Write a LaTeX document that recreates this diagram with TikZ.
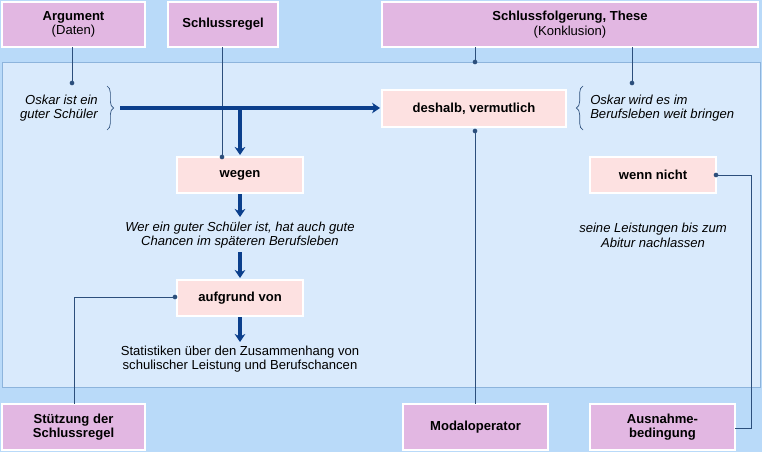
\documentclass[tikz,border=0pt]{standalone}
\usepackage{fontspec}
\setmainfont{Liberation Sans}
\usetikzlibrary{decorations.pathreplacing,arrows.meta}
\definecolor{bgblue}{HTML}{B9DAF9}
\definecolor{panel}{HTML}{D9EAFC}
\definecolor{panelline}{HTML}{8DB4DC}
\definecolor{lila}{HTML}{E2B7E2}
\definecolor{rosa}{HTML}{FDE1E1}
\definecolor{dark}{HTML}{0B3F8C}
\definecolor{lineblue}{HTML}{2C4F7C}
\tikzset{
  x=0.75pt, y=-0.75pt,
  every node/.style={font=\fontsize{9.8}{11}\selectfont, inner sep=0pt},
  outer/.style={draw=white, line width=1pt, fill=lila},
  inner/.style={draw=white, line width=1pt, fill=rosa},
  lbl/.style={font=\fontsize{9.8}{11}\selectfont\bfseries, align=center},
  thick arrow/.style={draw=dark, line width=2.3pt, -{Stealth[length=6pt,width=8pt]}},
  thin line/.style={draw=lineblue, line width=0.5pt},
  dot/.style={circle, fill=lineblue, minimum size=3.5pt, inner sep=0pt},
  txt/.style={align=center, font=\fontsize{9.8}{11}\selectfont\itshape},
}
\begin{document}
\begin{tikzpicture}
\fill[bgblue] (0,0) rectangle (762,452);
\useasboundingbox (0,0) rectangle (762,452);
\filldraw[fill=panel, draw=panelline, line width=0.6pt] (2,62) rectangle (760,387);

% top boxes
\path[outer] (2,2) rectangle (145,47);
\node[align=center] (arg) at (73.5,24.5) {\textbf{Argument}\\(Daten)};
\path[outer] (168,2) rectangle (278,47);
\node[lbl] (regel) at (223,24.5) {Schlussregel};
\path[outer] (382,2) rectangle (758,47);
\node[align=center] (these) at (570,24.5) {\textbf{Schlussfolgerung, These}\\(Konklusion)};

% bottom boxes
\path[outer] (2,404) rectangle (145,450);
\node[lbl] (stuetz) at (73.5,427) {Stützung der\\Schlussregel};
\path[outer] (403,404) rectangle (548,450);
\node[lbl] (modal) at (475.5,427) {Modaloperator};
\path[outer] (590,404) rectangle (735,450);
\node[lbl] (ausn) at (662.5,427) {Ausnahme-\\bedingung};

% inner boxes
\path[inner] (382,90) rectangle (566,127);
\node[lbl] (deshalb) at (474,108.5) {deshalb, vermutlich};
\path[inner] (177,157) rectangle (303,193);
\node[lbl] (wegen) at (240,175) {wegen};
\path[inner] (177,280) rectangle (303,316);
\node[lbl] (aufgrund) at (240,298) {aufgrund von};
\path[inner] (590,157) rectangle (716,193);
\node[lbl] (wenn) at (653,175) {wenn nicht};

% texts
\node[txt, align=right, anchor=east] (oskar) at (98,108) {Oskar ist ein\\guter Schüler};
\node[txt, align=left, anchor=west] (bringen) at (590,108) {Oskar wird es im\\Berufsleben weit bringen};
\node[txt] (regeltxt) at (240,235) {Wer ein guter Schüler ist, hat auch gute\\Chancen im späteren Berufsleben};
\node[txt, font=\fontsize{9.8}{11}\selectfont] (stat) at (240,359) {Statistiken über den Zusammenhang von\\schulischer Leistung und Berufschancen};
\node[txt] (ausntxt) at (653,235) {seine Leistungen bis zum\\Abitur nachlassen};

% braces
\draw[lineblue, line width=0.5pt, decorate, decoration={brace, amplitude=5pt}] (107,86) -- (107,130);
\draw[lineblue, line width=0.5pt, decorate, decoration={brace, amplitude=5pt}] (583,130) -- (583,86);

% dots and thin connectors
\coordinate (c1) at (72,83);
\coordinate (c2) at (632,83);
\coordinate (c3) at (475,62);
\coordinate (c4) at (222,157);
\coordinate (c5) at (475,131);
\coordinate (c6) at (175,297);
\coordinate (c7) at (716,175);
\draw[thin line] (c1) -- (72,47);
\draw[thin line] (c2) -- (632,47);
\draw[thin line] (c3) -- (475,47);
\draw[thin line] (c4) -- (222,47);
\draw[thin line] (c5) -- (475,404);
\draw[thin line] (c6) -- (74,297) -- (74,404);
\draw[thin line] (c7) -- (751,175) -- (751,428) -- (735,428);
\foreach \c in {c1,c2,c3,c4,c5,c6,c7} \node[dot] at (\c) {};

% thick arrows
\coordinate (start) at (120,108);
\draw[thick arrow] (start) -- (380,108);
\draw[thick arrow] (240,108) -- (240,155);
\draw[thick arrow] (240,194) -- (240,217);
\draw[thick arrow] (240,252) -- (240,278);
\draw[thick arrow] (240,317) -- (240,342);
\end{tikzpicture}
\end{document}
